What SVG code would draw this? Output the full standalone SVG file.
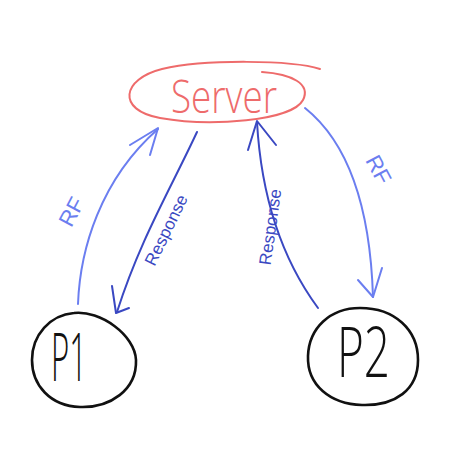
<svg xmlns="http://www.w3.org/2000/svg" width="474" height="474" viewBox="0 0 474 474">
<style>
.srv{fill:none;stroke:#ee6b6b;stroke-width:2;stroke-linecap:round}
.node{fill:none;stroke:#111;stroke-width:2.6;stroke-linejoin:round}
.lt{fill:none;stroke:#6b7ef0;stroke-width:2;stroke-linecap:round;stroke-linejoin:round}
.dk{fill:none;stroke:#3a48c2;stroke-width:2;stroke-linecap:round;stroke-linejoin:round}
.t{font-family:"Liberation Sans",Arial,sans-serif}
.big{font-family:"Open Sans","Lato","Liberation Sans",sans-serif;font-weight:300}
</style>
<rect width="474" height="474" fill="#fff"/>
<g id="server">
<path class="srv" d="M320,69 C292,60 205,59 162,69 C122,79 116,110 160,118 C210,127 292,121 303,100 C311,84 292,74 262,72"/>
<text class="big" x="171" y="113" font-size="46" fill="#ee6b6b" textLength="106" lengthAdjust="spacingAndGlyphs">Server</text>
</g>
<g id="p1">
<path class="node" d="M74,313 C100,310 135,335 136,360 C137,390 110,408 80,407 C50,406 32,385 32,360 C32,335 50,315 74,313 Z"/>
<text class="big" x="51" y="381" font-size="66" fill="#111" textLength="36" lengthAdjust="spacingAndGlyphs">P1</text>
</g>
<g id="p2">
<path class="node" d="M360,308 C395,308 418,330 418,360 C418,390 395,406 362,405 C330,404 307,385 308,356 C309,328 330,308 360,308 Z"/>
<text class="big" x="337" y="377" font-size="70" fill="#111" textLength="53" lengthAdjust="spacingAndGlyphs">P2</text>
</g>
<g id="connectors">
<path class="lt" d="M78,304 C80,250 100,180 158,129"/>
<path class="lt" d="M130,145 L158,128 L150,155"/>
<path class="dk" d="M197,132 C170,190 140,240 117,312"/>
<path class="dk" d="M112,286 L116,313 L129,308"/>
<path class="dk" d="M318,308 C290,270 262,210 257,122"/>
<path class="dk" d="M248,150 L257,121 L276,145"/>
<path class="lt" d="M305,108 C345,140 370,200 373,297"/>
<path class="lt" d="M358,280 L373,297 L382,268"/>
<text class="t" x="72" y="219" font-size="22" fill="#6b7ef0" text-anchor="middle" transform="rotate(-62 72 212)">RF</text>
<text class="t" x="166" y="236" font-size="17" fill="#3a48c2" text-anchor="middle" transform="rotate(-64 166 230)">Response</text>
<text class="t" x="270" y="233" font-size="17" fill="#3a48c2" text-anchor="middle" transform="rotate(-82 270 227)">Response</text>
<text class="t" x="378" y="177" font-size="22" fill="#6b7ef0" text-anchor="middle" transform="rotate(62 378 170)">RF</text>
</g>
</svg>
